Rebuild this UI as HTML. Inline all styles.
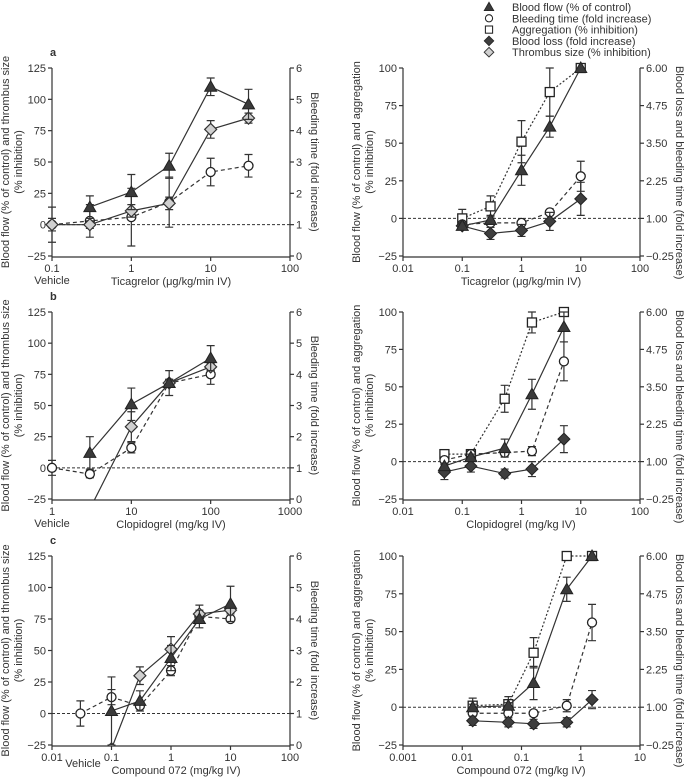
<!DOCTYPE html>
<html><head><meta charset="utf-8"><style>
html,body{margin:0;padding:0;background:#fff;}
svg{display:block;font-family:"Liberation Sans",Arial,sans-serif;}
text{fill:#333;}
</style></head><body>
<svg id="fig" width="685" height="779" viewBox="0 0 685 779"></svg>
<script>
// ---- Data (left-axis percent units) ----
// Panel a left (Ticagrelor)
const aL_x = [0.1, 0.3, 1, 3, 10, 30];
const aL_flow = [null, 14, 26, 47, 110, 96];
const aL_flowErr = [null, 9, 14, 10, 7, 12];
const aL_bleed = [0, 3, 6, 18, 42, 47];
const aL_bleedErr = [14, 13, 23, 20, 11, 9];
const aL_thromb = [0, 0, 11, 17, 76, 85];
const aL_thrombErr = [5, 3, 5, 5, 7, 4];
// Panel a right
const aR_x = [0.1, 0.3, 1, 3, 10];
const aR_agg = [0, 8, 51, 84, 100];
const aR_aggErr = [6, 7, 14, 16, 0];
const aR_flow = [-5, -1, 32, 61, 100];
const aR_flowErr = [2, 3, 10, 7, 0];
const aR_bleed = [-4, -3, -3, 4, 28];
const aR_bleedErr = [0, 0, 0, 0, 10];
const aR_loss = [-5, -10, -8, -2, 13];
const aR_lossErr = [2, 4, 4, 6, 11];
// Panel b left (Clopidogrel)
const bL_x = [1, 3, 10, 30, 100];
const bL_flow = [null, 12, 51, 68, 88];
const bL_flowErr = [null, 13, 13, 10, 10];
const bL_bleed = [0, -5, 16, 68, 75];
const bL_bleedErr = [6, 3, 4, 3, 8];
const bL_thromb = [null, -33, 33, 68, 81];
const bL_thrombErr = [null, 0, 12, 3, 3];
// Panel b right
const bR_x = [0.05, 0.14, 0.52, 1.5, 5.2];
const bR_agg = [5, 5, 42, 93, 100];
const bR_aggErr = [3, 2, 9, 7, 0];
const bR_flow = [-3, 3, 9, 45, 90];
const bR_flowErr = [2, 2, 6, 10, 10];
const bR_bleed = [1, 5, 6, 7, 67];
const bR_bleedErr = [2, 2, 2, 3, 13];
const bR_loss = [-7, -3, -8, -5, 15];
const bR_lossErr = [5, 4, 3, 5, 9];
// Panel c left (Compound 072)
const cL_x = [0.03, 0.1, 0.3, 1, 3, 10];
const cL_flow = [null, 2, 10, 44, 75, 87];
const cL_flowErr = [null, 27, 8, 10, 7, 14];
const cL_bleed = [0, 13, 6, 34, 77, 75];
const cL_bleedErr = [10, 6, 2, 4, 3, 2];
const cL_thromb = [null, -28, 30, 51, 79, 82];
const cL_thrombErr = [null, 0, 7, 10, 7, 3];
// Panel c right
const cR_x = [0.015, 0.06, 0.16, 0.58, 1.55];
const cR_agg = [1, 2, 36, 100, 100];
const cR_aggErr = [5, 5, 10, 0, 0];
const cR_flow = [0, 1, 16, 78, 100];
const cR_flowErr = [2, 2, 11, 8, 0];
const cR_bleed = [-4, -4, -4, 1, 56];
const cR_bleedErr = [1, 1, 2, 4, 12];
const cR_loss = [-9, -10, -11, -10, 5];
const cR_lossErr = [3, 3, 3, 3, 6];

const leftTicks = [125, 100, 75, 50, 25, 0, -25];
const leftRightTicks = ['6','5','4','3','2','1','0'];
const rightTicks = [100, 75, 50, 25, 0, -25];
const rightRightTicks = ['6.00','4.75','3.50','2.25','1.00','\u22120.25'];

const NS = 'http://www.w3.org/2000/svg';
const svg = document.getElementById('fig');
function mk(tag, attrs, parent, text) {
  const e = document.createElementNS(NS, tag);
  for (const k in attrs) e.setAttribute(k, attrs[k]);
  if (text !== undefined) e.textContent = text;
  (parent || svg).appendChild(e);
  return e;
}
function fmt(v){ return v < 0 ? '\u2212' + Math.abs(v) : String(v); }

let clipId = 0;
function panel(o) {
  const g = mk('g', {});
  
  
  const X0 = o.x0, X1 = o.x1, Y0 = o.yTop, Y1 = o.yBot;
  const lx0 = Math.log10(o.xmin), lx1 = Math.log10(o.xmax);
  const sx = v => X0 + (Math.log10(v) - lx0) / (lx1 - lx0) * (X1 - X0);
  const sy = v => Y0 + (o.ymax - v) / (o.ymax - o.ymin) * (Y1 - Y0);
  const ax = mk('g', {stroke: '#333', 'stroke-width': 1.2, fill: 'none'}, g);
  
  
  mk('line', {x1: X0, y1: Y0, x2: X0, y2: Y1 + 1}, ax);
  mk('line', {x1: X1, y1: Y0, x2: X1, y2: Y1 + 1}, ax);
  mk('line', {x1: X0, y1: Y1 + 1, x2: X1, y2: Y1 + 1}, ax);
  o.yticks.forEach((t, i) => {
    const y = sy(t);
    mk('line', {x1: X0 - 4, y1: y, x2: X0, y2: y}, ax);
    mk('line', {x1: X1, y1: y, x2: X1 + 4, y2: y}, ax);
    const lt = mk('text', {x: X0 - 6, y: y + 4, 'text-anchor': 'end', 'font-size': 11}, g, fmt(t));
    
    
    const rt = mk('text', {x: X1 + 6, y: y + 4, 'font-size': 11}, g, o.rticks[i]);
    
    
  });
  o.xticks.forEach(t => {
    const x = sx(t);
    mk('line', {x1: x, y1: Y1 + 1, x2: x, y2: Y1 + 5}, ax);
    const xt = mk('text', {x: x, y: Y1 + 16, 'text-anchor': 'middle', 'font-size': 11}, g, String(t));
    
    
  });
  mk('line', {x1: X0, y1: sy(0), x2: X1, y2: sy(0), stroke: '#333', 'stroke-width': 1, 'stroke-dasharray': '3,2'}, g);
  if (o.vehicle) {
    const v = mk('text', {x: o.vehicleX || X0, y: Y1 + (o.vehicleDy || 28), 'text-anchor': 'middle', 'font-size': 11}, g, 'Vehicle');
    
    
  }
  const xt = mk('text', {x: o.xTitleX, y: Y1 + o.xTitleDy, 'text-anchor': 'middle', 'font-size': 11}, g, o.xTitle);
  
  
  const cy = (Y0 + Y1) / 2;
  o.yTitle.forEach((s, i) => {
    const tx = o.yTitleX + i * 13;
    const t = mk('text', {x: tx, y: cy, 'text-anchor': 'middle', 'font-size': 11, transform: `rotate(-90 ${tx} ${cy})`}, g, s);
    
    
  });
  const rtx = o.y2TitleX, rty = o.y2TitleY || cy;
  const t2 = mk('text', {x: rtx, y: rty, 'text-anchor': o.y2Anchor || 'middle', 'font-size': 11, transform: `rotate(90 ${rtx} ${rty})`}, g, o.y2Title);
  
  
  if (o.letter) {
    const l = mk('text', {x: X0 - 2, y: Y0 - 12, 'font-size': 11, 'font-weight': 'bold'}, g, o.letter);
    
    
  }
  const cid = 'c' + (clipId++);
  const cp = mk('clipPath', {id: cid}, g);
  mk('rect', {x: X0 - 10, y: Y0 - 20, width: X1 - X0 + 20, height: Y1 - Y0 + 21}, cp);
  const plot = mk('g', {'clip-path': `url(#${cid})`}, g);
  o.series.forEach(s => {
    const sg = mk('g', {}, plot);
    
    
    const pts = [];
    s.y.forEach((v, i) => { if (v !== null) pts.push([sx(o.x[i]), sy(v)]); });
    mk('polyline', {points: pts.map(p => p[0] + ',' + p[1]).join(' '), fill: 'none', stroke: '#333', 'stroke-width': 1.2, 'stroke-dasharray': s.dash || 'none'}, sg);
    s.y.forEach((v, i) => {
      if (v === null) return;
      const e = s.err[i];
      if (!e) return;
      const x = sx(o.x[i]);
      mk('path', {d: `M${x},${sy(v + e)}V${sy(v - e)}M${x - 4},${sy(v + e)}H${x + 4}M${x - 4},${sy(v - e)}H${x + 4}`, stroke: '#333', 'stroke-width': 1.2, fill: 'none'}, sg);
    });
    s.y.forEach((v, i) => {
      if (v === null || v < o.ymin - 5) return;
      const m = marker(s.shape, sx(o.x[i]), sy(v), sg);
      
      
    });
  });
}
function marker(shape, x, y, parent) {
  if (shape === 'tri') return mk('path', {d: `M${x},${y - 6}L${x + 6},${y + 4.5}L${x - 6},${y + 4.5}Z`, fill: '#3a3a3a', stroke: '#222', 'stroke-width': 1}, parent);
  if (shape === 'circ') return mk('circle', {cx: x, cy: y, r: 4.5, fill: '#fff', stroke: '#222', 'stroke-width': 1.3}, parent);
  if (shape === 'sq') return mk('rect', {x: x - 4.5, y: y - 4.5, width: 9, height: 9, fill: '#fff', stroke: '#222', 'stroke-width': 1.3}, parent);
  if (shape === 'dia') return mk('path', {d: `M${x},${y - 6}L${x + 6},${y}L${x},${y + 6}L${x - 6},${y}Z`, fill: '#3e3e3e', stroke: '#222', 'stroke-width': 1}, parent);
  return mk('path', {d: `M${x},${y - 6}L${x + 6},${y}L${x},${y + 6}L${x - 6},${y}Z`, fill: '#d0d0d0', stroke: '#333', 'stroke-width': 1.2}, parent);
}
const LT = ['Blood flow (% of control) and thrombus size', '(% inhibition)'];
const RT = ['Blood flow (% of control) and aggregation', '(% inhibition)'];
function leftPanel(name, letter, top, bot, xmin, xmax, xticks, xs, flow, flowE, bleed, bleedE, thr, thrE, xTitle, vehX, vehDy, titleX) {
  panel({name, letter, x0: 52, x1: 290, yTop: top, yBot: bot, xmin, xmax, ymin: -25, ymax: 125,
    yticks: leftTicks, rticks: leftRightTicks, xticks, x: xs, vehicle: true, vehicleX: vehX, vehicleDy: vehDy,
    xTitle, xTitleX: titleX || 171, xTitleDy: 29, yTitle: LT, yTitleX: 9, y2Title: 'Bleeding time (fold increase)', y2TitleX: 311,
    series: [
      {name: 'bleeding-time-series', shape: 'circ', y: bleed, err: bleedE, dash: '4,3'},
      {name: 'thrombus-size-series', shape: 'thr', y: thr, err: thrE},
      {name: 'blood-flow-series', shape: 'tri', y: flow, err: flowE},
    ]});
}
function rightPanel(name, top, bot, xmin, xmax, xticks, xs, agg, aggE, flow, flowE, bleed, bleedE, loss, lossE, xTitle) {
  panel({name, x0: 403, x1: 640, yTop: top, yBot: bot, xmin, xmax, ymin: -25, ymax: 100,
    yticks: rightTicks, rticks: rightRightTicks, xticks, x: xs,
    xTitle, xTitleX: 521, xTitleDy: 29, yTitle: RT, yTitleX: 360, y2Title: 'Blood loss and bleeding time (fold increase)', y2TitleX: 676, y2TitleY: top - 2, y2Anchor: 'start',
    series: [
      {name: 'aggregation-series', shape: 'sq', y: agg, err: aggE, dash: '2,2'},
      {name: 'bleeding-time-series', shape: 'circ', y: bleed, err: bleedE, dash: '4,3'},
      {name: 'blood-loss-series', shape: 'dia', y: loss, err: lossE},
      {name: 'blood-flow-series', shape: 'tri', y: flow, err: flowE},
    ]});
}
leftPanel('panel-a-left', 'a', 68, 256, 0.1, 100, [0.1, 1, 10, 100], aL_x, aL_flow, aL_flowErr, aL_bleed, aL_bleedErr, aL_thromb, aL_thrombErr, 'Ticagrelor (\u03bcg/kg/min IV)', 52, 28, 171);
rightPanel('panel-a-right', 68, 256, 0.01, 100, [0.01, 0.1, 1, 10, 100], aR_x, aR_agg, aR_aggErr, aR_flow, aR_flowErr, aR_bleed, aR_bleedErr, aR_loss, aR_lossErr, 'Ticagrelor (\u03bcg/kg/min IV)');
leftPanel('panel-b-left', 'b', 312, 499, 1, 1000, [1, 10, 100, 1000], bL_x, bL_flow, bL_flowErr, bL_bleed, bL_bleedErr, bL_thromb, bL_thrombErr, 'Clopidogrel (mg/kg IV)', 52, 28, 171);
rightPanel('panel-b-right', 312, 499, 0.01, 100, [0.01, 0.1, 1, 10, 100], bR_x, bR_agg, bR_aggErr, bR_flow, bR_flowErr, bR_bleed, bR_bleedErr, bR_loss, bR_lossErr, 'Clopidogrel (mg/kg IV)');
leftPanel('panel-c-left', 'c', 556, 745, 0.01, 100, [0.01, 0.1, 1, 10, 100], cL_x, cL_flow, cL_flowErr, cL_bleed, cL_bleedErr, cL_thromb, cL_thrombErr, 'Compound 072 (mg/kg IV)', 83, 22, 176);
rightPanel('panel-c-right', 556, 745, 0.001, 10, [0.001, 0.01, 0.1, 1, 10], cR_x, cR_agg, cR_aggErr, cR_flow, cR_flowErr, cR_bleed, cR_bleedErr, cR_loss, cR_lossErr, 'Compound 072 (mg/kg IV)');

const legendShapes = ['tri', 'circ', 'sq', 'dia', 'thr'];
const legendLabels = ['Blood flow (% of control)', 'Bleeding time (fold increase)', 'Aggregation (% inhibition)', 'Blood loss (fold increase)', 'Thrombus size (% inhibition)'];
const lg = mk('g', {});


legendLabels.forEach((lab, i) => {
  const y = 7 + i * 11.3;
  const eg = mk('g', {}, lg);
  
  
  const m = marker(legendShapes[i], 489, y, eg);
  m.setAttribute('transform', `translate(489 ${y}) scale(0.8) translate(-489 ${-y})`);
  mk('text', {x: 512, y: y + 4, 'font-size': 11}, eg, lab);
});
</script>
</body></html>
